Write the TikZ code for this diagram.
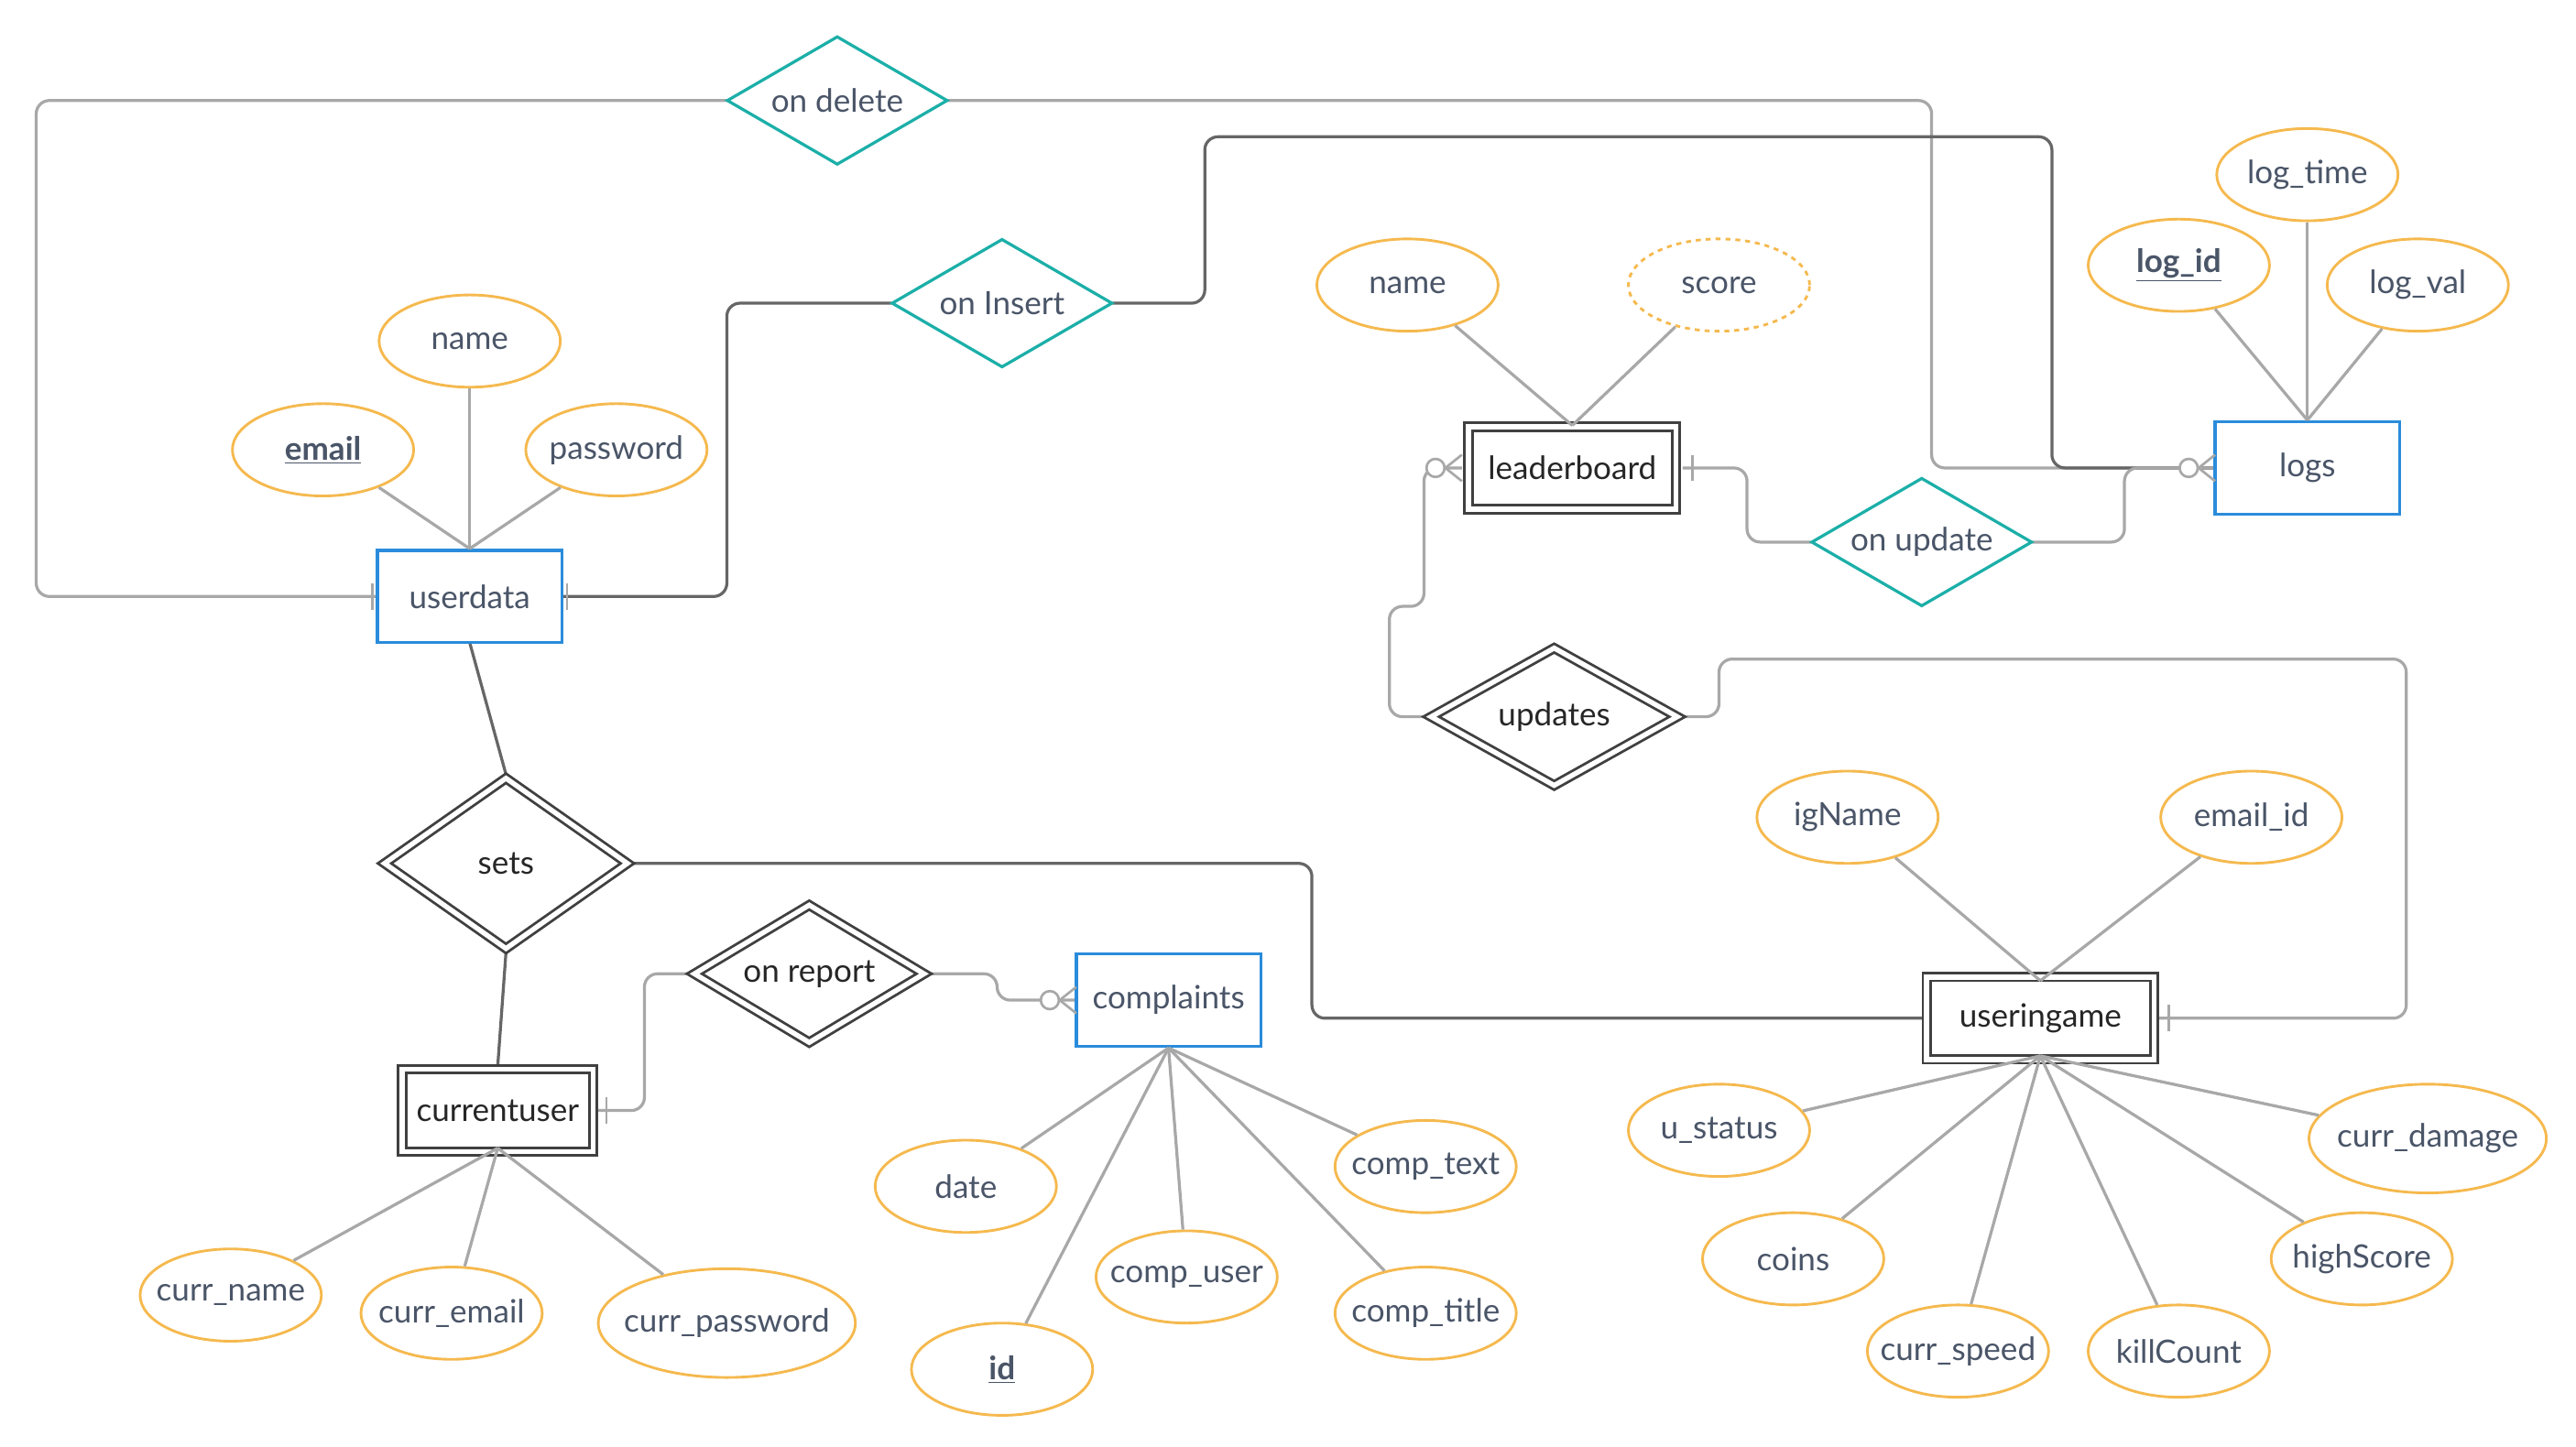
\documentclass[tikz,border=0pt]{standalone}
\usepackage{fontspec}
\setmainfont{Lato}
\usetikzlibrary{shapes.geometric,calc}
\definecolor{ent}{HTML}{2A8CDB}
\definecolor{att}{HTML}{F5B94E}
\definecolor{rel}{HTML}{1BAFA8}
\definecolor{txt}{HTML}{4A5568}
\definecolor{ln}{HTML}{A8A8A8}
\definecolor{dk}{HTML}{404040}
\newcommand{\At}[1]{\makebox[0pt]{#1}}
\begin{document}
\begin{tikzpicture}[x=1pt,y=-1pt,
  every node/.style={font=\fontsize{19.5}{22}\selectfont, text=txt},
  ent/.style={draw=ent, line width=2pt, fill=white, minimum width=112pt, minimum height=56pt},
  weak/.style={draw=dk, line width=1.6pt, double=white, double distance=3pt, fill=white, minimum width=#1, minimum height=50pt, text=black!85},
  att/.style={ellipse, draw=att, line width=1.6pt, fill=white, minimum width=110pt, minimum height=56pt, inner sep=0pt},
  rel/.style={diamond, aspect=1.7, draw=rel, line width=1.8pt, fill=white, minimum width=134pt, minimum height=78pt, inner sep=0pt},
  drel/.style={diamond, aspect=#1, draw=dk, line width=1.6pt, double=white, double distance=3pt, fill=white, inner sep=0pt, text=black!85},
  al/.style={draw=ln, line width=1.8pt},
  cl/.style={draw=ln, line width=1.8pt, rounded corners=8pt},
  dl/.style={draw=gray!120, line width=1.8pt, rounded corners=8pt}]
\useasboundingbox (0,0) rectangle (1563,878);
% connectors first
\draw[cl] (229,362) -- (22,362) -- (22,61) -- (441,61);
\draw[cl] (575,61) -- (1172,61) -- (1172,284) -- (1344,284);
\draw[dl] (341,362) -- (441,362) -- (441,184) -- (541,184);
\draw[dl] (675,184) -- (731,184) -- (731,83) -- (1245,83) -- (1245,284) -- (1344,284);
\draw[cl] (1021,284) -- (1060,284) -- (1060,329) -- (1099,329);
\draw[cl] (1233,329) -- (1289,329) -- (1289,284) -- (1344,284);
\draw[cl] (887,284) -- (864,284) -- (864,368) -- (843,368) -- (843,435) -- (865,435);
\draw[cl] (1021,435) -- (1043,435) -- (1043,400) -- (1460,400) -- (1460,618) -- (1310,618);
\draw[dl] (384,524) -- (796,524) -- (796,618) -- (1166,618);
\draw[cl] (363,674) -- (391,674) -- (391,591) -- (419,591);
\draw[cl] (563,591) -- (605,591) -- (605,607) -- (653,607);
\draw[dl,rounded corners=0] (285,390) -- (307,470);
\draw[dl,rounded corners=0] (307,578) -- (302,647);
% nodes
\node[ent] (userdata) at (285,362) {userdata};
\node[ent] (logs) at (1400,284) {logs};
\node[ent] (complaints) at (709,607) {complaints};
\node[weak=126pt] (leaderboard) at (954,284) {leaderboard};
\node[weak=116pt] (currentuser) at (302,674) {currentuser};
\node[weak=138pt] (useringame) at (1238,618) {useringame};
\node[rel] (ondelete) at (508,61) {on delete};
\node[rel] (oninsert) at (608,184) {on Insert};
\node[rel] (onupdate) at (1166,329) {on update};
\node[drel=1.75, minimum width=150pt, minimum height=84pt] (updates) at (943,435) {updates};
\node[drel=1.4, minimum width=148pt, minimum height=104pt] (sets) at (307,524) {sets};
\node[drel=1.63, minimum width=140pt, minimum height=84pt] (onreport) at (491,591) {on report};
% markers
\draw[ln,line width=1.5pt] (226,354)--(226,370) (344,354)--(344,370) (1027,276)--(1027,292) (368,666)--(368,682) (1316,610)--(1316,626);
\draw[ln,line width=1.5pt,fill=white] (1328,284) circle (5.5);
\draw[ln,line width=1.5pt] (1344,276)--(1334,284)--(1344,292);
\draw[ln,line width=1.5pt,fill=white] (871,284) circle (5.5);
\draw[ln,line width=1.5pt] (887,276)--(877,284)--(887,292);
\draw[ln,line width=1.5pt,fill=white] (637,607) circle (5.5);
\draw[ln,line width=1.5pt] (653,599)--(643,607)--(653,615);
% attributes
\node[att] (a1) at (285,207) {\At{name}};
\node[att] (a2) at (196,273) {\At{\textbf{\underline{email}}}};
\node[att] (a3) at (374,273) {\At{password}};
\node[att] (b1) at (854,173) {\At{name}};
\node[att,dashed] (b2) at (1043,173) {\At{score}};
\node[att] (l1) at (1400,106) {\At{log\_time}};
\node[att] (l2) at (1322,161) {\At{\textbf{\underline{log\_id}}}};
\node[att] (l3) at (1467,173) {\At{log\_val}};
\node[att] (g1) at (1121,496) {\At{igName}};
\node[att] (g2) at (1366,496) {\At{email\_id}};
\node[att] (g3) at (1043,686) {\At{u\_status}};
\node[att] (g4) at (1088,764) {\At{coins}};
\node[att] (g5) at (1188,820) {\At{curr\_speed}};
\node[att] (g6) at (1322,820) {\At{killCount}};
\node[att] (g7) at (1433,764) {\At{highScore}};
\node[att,minimum width=144pt,minimum height=66pt] (g8) at (1473,691) {\At{curr\_damage}};
\node[att] (p1) at (586,720) {\At{date}};
\node[att] (p2) at (720,775) {\At{comp\_user}};
\node[att] (p3) at (865,708) {\At{comp\_text}};
\node[att] (p4) at (865,797) {\At{comp\_title}};
\node[att] (p5) at (608,831) {\At{\textbf{\underline{id}}}};
\node[att] (u1) at (140,786) {\At{curr\_name}};
\node[att] (u2) at (274,797) {\At{curr\_email}};
\node[att,minimum width=156pt,minimum height=66pt] (u3) at (441,803) {\At{curr\_password}};
% attribute lines
\foreach \a in {a1,a2,a3} \draw[al] (\a) -- (userdata.north);
\foreach \a in {b1,b2} \draw[al] (\a) -- (leaderboard.north);
\foreach \a in {l1,l2,l3} \draw[al] (\a) -- (logs.north);
\foreach \a in {g1,g2} \draw[al] (\a) -- ([yshift=-3pt]useringame.north);
\foreach \a in {g3,g4,g5,g6,g7,g8} \draw[al] (\a) -- ([yshift=3pt]useringame.south);
\foreach \a in {p1,p2,p3,p4,p5} \draw[al] (\a) -- (complaints.south);
\foreach \a in {u1,u2,u3} \draw[al] (\a) -- ([yshift=3pt]currentuser.south);
\end{tikzpicture}
\end{document}
